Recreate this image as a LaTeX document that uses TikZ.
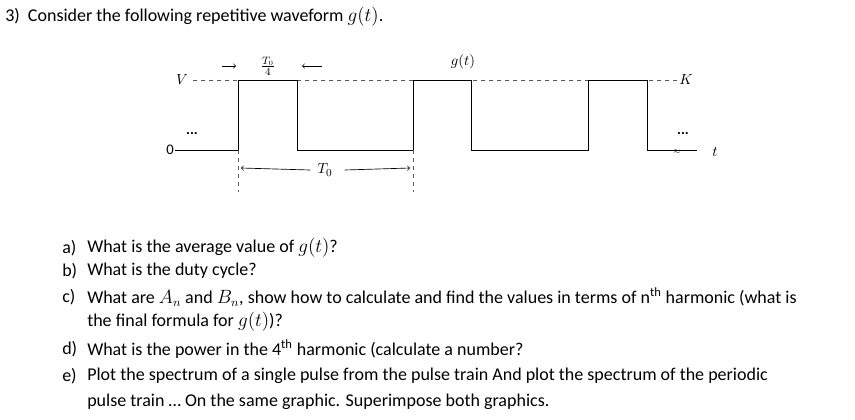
\documentclass[tikz,border=0pt]{standalone}
\usepackage{fontspec}
\setmainfont{Carlito}
\begin{document}
\begin{tikzpicture}[x=0.75pt,y=-0.75pt,
  txt/.style={anchor=west,inner sep=0pt,font=\fontsize{13.5}{15}\selectfont},
  lbl/.style={inner sep=0pt,font=\fontsize{11}{13}\selectfont},
  wave/.style={line width=0.6pt},
  guide/.style={dashed,line width=0.4pt,gray!70!black},
  dim/.style={->,line width=0.5pt}]
\useasboundingbox (0,0) rectangle (855,419);
\node[txt] (title) at (5,17) {3)\ \ Consider the following repetitive waveform $g(t)$.};
% waveform
\draw[guide] (193,80) -- (680,80);
\draw[wave] (175,150) -- (238,150) -- (238,80) -- (297,80) -- (297,150) -- (413,150) -- (413,80) -- (471,80) -- (471,150) -- (588,150) -- (588,80) -- (647,80) -- (647,150) -- (697,150);
\draw[guide] (238,150) -- (238,192);
\draw[guide] (413,150) -- (413,192);
\node[lbl] (V) at (182,80) {$V$};
\node[lbl] (K) at (686,80) {$K$};
\node[lbl] (z) at (170,150) {0};
\node[lbl] (t) at (715,152) {$t$};
\node[lbl] (g) at (463,62) {$g(t)$};
\node[lbl] (d1) at (192,134) {\textbf{...}};
\node[lbl] (d2) at (683,134) {\textbf{...}};
\node[lbl,font=\tiny] (br) at (677,152) {$\approx$};
\node[lbl] (q) at (268,66) {$\frac{T_0}{4}$};
\coordinate (a1) at (222,66); \coordinate (a1e) at (236,66);
\coordinate (a2) at (322,66); \coordinate (a2e) at (302,66);
\draw[dim] (a1) -- (a1e);
\draw[dim] (a2) -- (a2e);
\node[lbl] (T) at (325,170) {$T_0$};
\coordinate (b1) at (241,168); \coordinate (b2) at (410,168);
\draw[dim] (T.west) ++(-7,0) -- (b1);
\draw[dim] (T.east) ++(12,0) -- (b2);
% questions
\node[txt] at (62,248) {a)};
\node[txt] at (87,248) {What is the average value of $g(t)$?};
\node[txt] at (62,271) {b)};
\node[txt] at (87,271) {What is the duty cycle?};
\node[txt] at (62,297) {c)};
\node[txt] at (87,297) {What are $A_n$ and $B_n$, show how to calculate and find the values in terms of n\textsuperscript{th} harmonic (what is};
\node[txt] at (87,322) {the final formula for $g(t)$)?};
\node[txt] at (62,349) {d)};
\node[txt] at (87,349) {What is the power in the 4\textsuperscript{th} harmonic (calculate a number?};
\node[txt] at (62,376) {e)};
\node[txt] at (87,376) {Plot the spectrum of a single pulse from the pulse train And plot the spectrum of the periodic};
\node[txt] at (87,402) {pulse train … On the same graphic. Superimpose both graphics.};
\end{tikzpicture}
\end{document}
